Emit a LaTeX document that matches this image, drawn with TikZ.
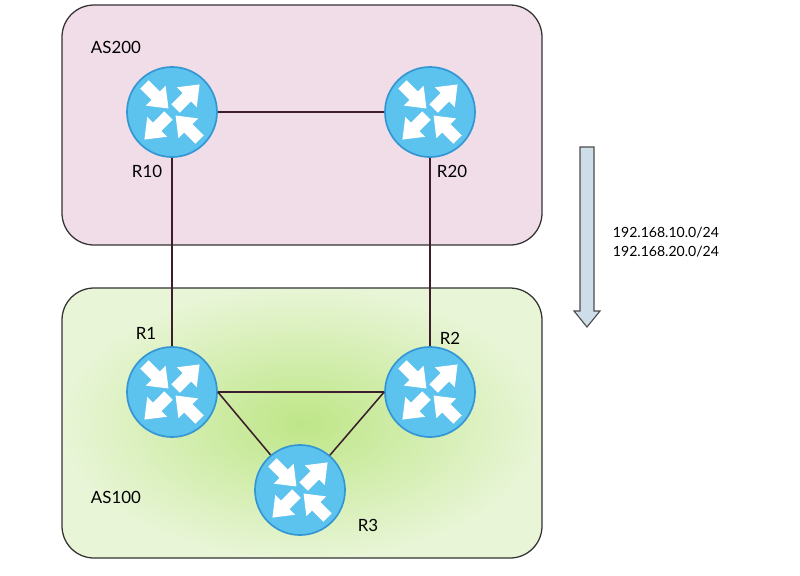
\documentclass[tikz,border=0pt]{standalone}
\usepackage{fontspec}
\setmainfont{Lato}
\usetikzlibrary{positioning}
\definecolor{aspink}{RGB}{241,221,232}
\definecolor{asgreenin}{RGB}{190,230,135}
\definecolor{asgreenout}{RGB}{232,245,214}
\definecolor{rtfill}{RGB}{92,194,238}
\definecolor{rtline}{RGB}{52,150,210}
\definecolor{linkc}{RGB}{60,30,45}
\definecolor{arrfill}{RGB}{205,222,232}
\begin{document}
\begin{tikzpicture}[x=0.025cm,y=-0.025cm]
\tikzset{router/.style = {shape=circle,fill=rtfill,draw=rtline,line width=1.2pt,minimum size=2.25cm,inner sep=0pt}}
\tikzset{asbox/.style = {draw=black!80,line width=0.9pt,rounded corners=0.8cm}}
\tikzset{link/.style = {draw=linkc,line width=1.1pt}}
\tikzset{lbl/.style = {font=\large,text=black}}
\tikzset{rarrow/.style = {fill=white}}
\useasboundingbox (0,0) rectangle (800,575);
% areas
\draw[asbox,fill=aspink] (62,5) rectangle (542,245);
\shade[inner color=asgreenin,outer color=asgreenout,rounded corners=0.8cm] (62,288) rectangle (542,558);
\draw[asbox] (62,288) rectangle (542,558);
\node[lbl,anchor=west] (as200) at (86,47) {AS200};
\node[lbl,anchor=west] (as100) at (86,497) {AS100};
% routers
\node[router] (R10) at (172,112) {};
\node[router] (R20) at (430,112) {};
\node[router] (R1) at (172,392) {};
\node[router] (R2) at (430,392) {};
\node[router] (R3) at (300,490) {};
\foreach \r in {R10,R20,R1,R2,R3}{
  \foreach \ang/\dir in {135/-1,-45/-1,45/1,-135/1}{
    \begin{scope}[shift={(\r.center)},rotate=\ang,yscale=-1]
      \ifnum\dir=1
        \fill[rarrow] (5,-6) -- (21,-6) -- (21,-14) -- (39,0) -- (21,14) -- (21,6) -- (5,6) -- cycle;
      \else
        \fill[rarrow] (39,-6) -- (23,-6) -- (23,-14) -- (5,0) -- (23,14) -- (23,6) -- (39,6) -- cycle;
      \fi
    \end{scope}
  }
}
\node[lbl] (lR10) at (147,171) {R10};
\node[lbl] (lR20) at (452,171) {R20};
\node[lbl] (lR1) at (146,333) {R1};
\node[lbl] (lR2) at (450,338) {R2};
\node[lbl] (lR3) at (368,525) {R3};
% links
\draw[link] (R10) -- (R20);
\draw[link] (R10) -- (R1);
\draw[link] (R20) -- (R2);
\draw[link] (R1) -- (R2);
\draw[link] (R1.east) -- (R3);
\draw[link] (R2.west) -- (R3);
% advertisement
\coordinate (atop) at (587,147);
\coordinate (abot) at (587,327);
\draw[fill=arrfill,draw=black!70,line width=0.8pt] (580,147) -- (594,147) -- (594,311) -- (600,311) -- (587,327) -- (574,311) -- (580,311) -- cycle;
\node[anchor=west,align=left,font=\normalsize] (pfx) at (608,242) {192.168.10.0/24\\[2pt]192.168.20.0/24};
\end{tikzpicture}
\end{document}
